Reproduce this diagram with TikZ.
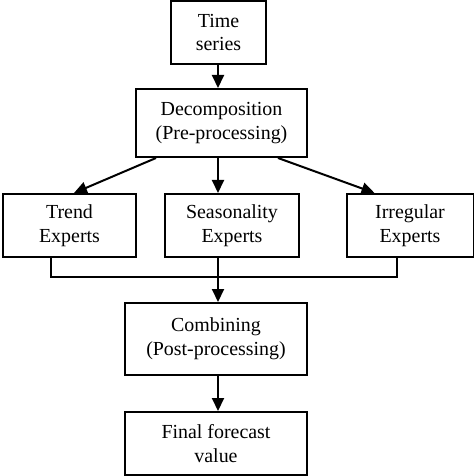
\documentclass[tikz,border=0pt]{standalone}
\usepackage{fontspec}
\setmainfont{Liberation Serif}
\usepackage{tikz}
\usetikzlibrary{arrows.meta,calc}
\tikzset{
  stagebox/.style={draw, line width=2bp, align=center, inner sep=0pt,
    font=\fontsize{20}{24}\selectfont},
  flow/.style={line width=2bp, -{Triangle[length=13bp,width=12bp]}}
}

\begin{document}
\begin{tikzpicture}[x=1bp,y=-1bp]
   \useasboundingbox (0,0) rectangle (474,476);
   \node[stagebox, minimum width=95bp, minimum height=63bp] (time) at (218.5,32.5) {Time\\series};
   \node[stagebox, minimum width=171bp, minimum height=68bp] (decomp) at (221.5,123) {Decomposition\\(Pre-processing)};
   \foreach \x/\w/\name/\txt in {69.5/133/trend/Trend, 232/134/season/Seasonality, 410/127/irreg/Irregular} {
    \node[stagebox, minimum width=\w bp, minimum height=63bp] (\name) at (\x,225.5) {\txt\\Experts};
   }
   \node[stagebox, minimum width=182bp, minimum height=72bp] (combine) at (216,339) {Combining\\(Post-processing)};
   \node[stagebox, minimum width=182bp, minimum height=63bp] (final) at (216,443.5) {Final forecast\\value};

   \draw[flow] (218,0 |- time.south) -- (218,0 |- decomp.north);
   \draw[flow] ($(decomp.south west)+(21,0)$) -- ($(trend.north west)+(72,0)$);
   \draw[flow] (218,0 |- decomp.south) -- (218,0 |- season.north);
   \draw[flow] ($(decomp.south east)+(-30,0)$) -- ($(irreg.north west)+(29,0)$);

   \coordinate (join) at (218,277);
   \draw[line width=2bp] (51,0 |- trend.south) |- (join) -| (397,0 |- irreg.south);
   \draw[line width=2bp] (218,0 |- season.south) -- (join);
   \draw[flow] (join) -- (218,0 |- combine.north);
   \draw[flow] (218,0 |- combine.south) -- (218,0 |- final.north);
\end{tikzpicture}
\end{document}
